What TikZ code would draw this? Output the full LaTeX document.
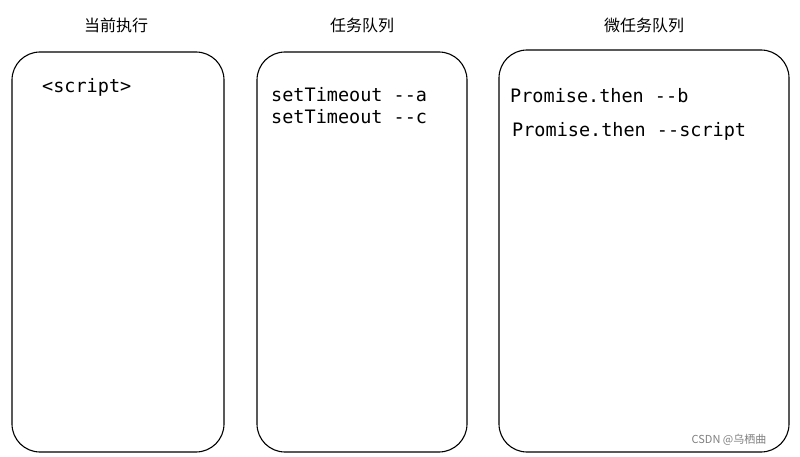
\documentclass[tikz,border=0pt]{standalone}
\usepackage{fontspec}
\setmonofont{DejaVu Sans Mono}
\newfontfamily\cjk{Noto Sans CJK SC}
\begin{document}
\begin{tikzpicture}[x=1pt,y=-1pt,
  box/.style={draw=black,line width=1.1pt,rounded corners=28pt},
  title/.style={font=\cjk\fontsize{16}{18}\selectfont},
  code/.style={font=\ttfamily\fontsize{18.5}{22}\selectfont,anchor=west,inner sep=0pt}]
\useasboundingbox[fill=white] (0,0) rectangle (800,457);
\draw[box] (12,52) rectangle (224,452);
\draw[box] (257,52) rectangle (467,452);
\draw[box] (499,50) rectangle (789,452);
\node[title] (t1) at (116,25) {当前执行};
\node[title] (t2) at (362,25) {任务队列};
\node[title] (t3) at (644,25) {微任务队列};
\node[code] (s) at (42,87) {<script>};
\node[code] (a) at (271,95) {setTimeout  --a};
\node[code] (c) at (271,117) {setTimeout  --c};
\node[code] (b) at (510,96) {Promise.then  --b};
\node[code] (p) at (512,131) {Promise.then  --script};
\node[font=\cjk\fontsize{11}{13}\selectfont,text=gray] (w) at (729,440) {CSDN @乌栖曲};
\end{tikzpicture}
\end{document}
